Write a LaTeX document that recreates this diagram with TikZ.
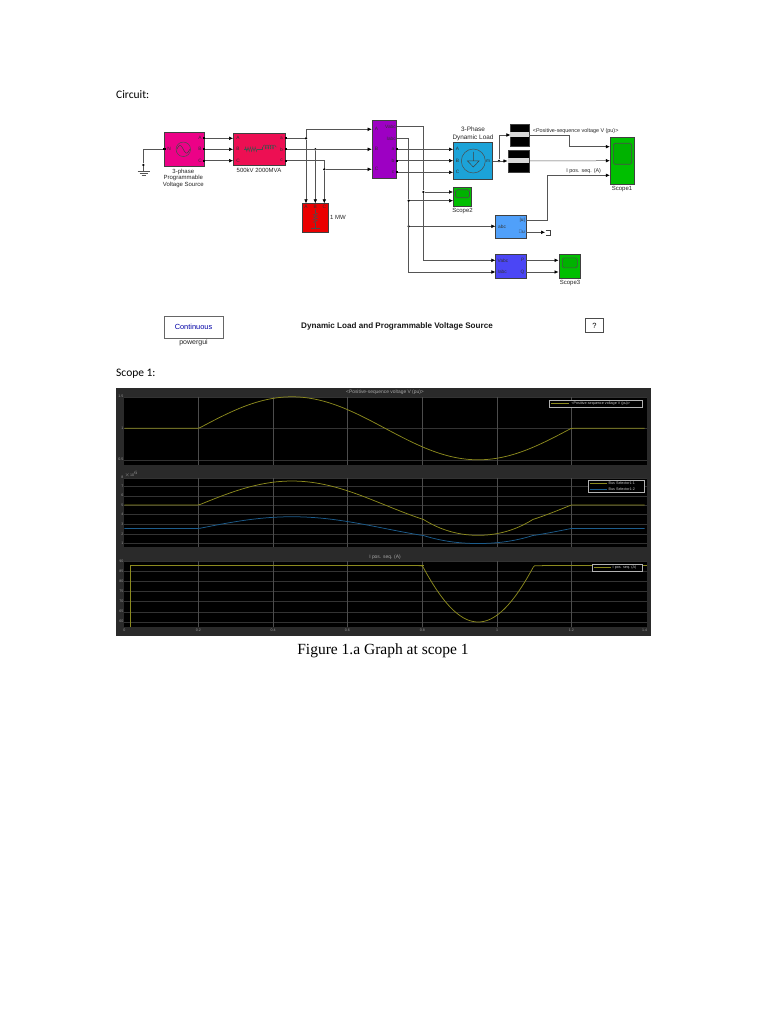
\documentclass[tikz,border=0pt]{standalone}
\usepackage{fontspec}
\setmainfont{Liberation Sans}
\newfontfamily\carlitofont{Carlito}
\newfontfamily\serifcap{Liberation Serif}
\usetikzlibrary{arrows.meta,decorations.pathmorphing}
\newcommand{\fsz}[1]{\fontsize{#1}{#1}\selectfont}
\definecolor{wirec}{HTML}{555555}
\definecolor{scopebg}{HTML}{2A2A2A}
\definecolor{gridc}{HTML}{333333}
\definecolor{trackA}{HTML}{8C8A1E}
\definecolor{trackB}{HTML}{1C5C8C}
\definecolor{ticktxt}{HTML}{9A9A9A}
\tikzset{
  x=1pt,y=-1pt,
  blk/.style={draw=black!75,line width=.5pt,inner sep=0,rectangle},
  wire/.style={draw=wirec,line width=.5pt},
  arr/.style={wire,-{Latex[length=4pt,width=3.6pt,black]}},
  jun/.style={circle,fill=black,inner sep=0,minimum size=2.6pt},
  sq/.style={rectangle,fill=black,inner sep=0,minimum size=2.2pt},
  lbl/.style={inner sep=0,font=\fsz{6},text=black!85,align=center},
  plbl/.style={inner sep=0,font=\fsz{4.8},text=black!80},
  tick/.style={inner sep=0,font=\fsz{3.6},text=ticktxt},
  grid/.style={draw=gridc,line width=.4pt},
  vgrid/.style={draw=black!70!white,line width=.4pt},
  legendbox/.style={draw=black!30,fill=black,line width=.4pt},
  legtxt/.style={inner sep=0,font=\fsz{3.7},text=black!20,anchor=west},
  declare function={
    voltt(\t)=(\t<0.2 || \t>1.2) ? 1 : 1+0.5*sin(360*(\t-0.2));
    powp(\v)=(\v>=0.706) ? 5+5.1*(\v-1) : 7.1*\v*\v;
    powq(\v)=(\v>=0.706) ? 2.5+2.5*(\v-1) : 3.6*\v*\v;
    curr(\v)=(\v>=0.706) ? 565.7 : 565.7+56.3*(0.706-\v)/0.206;
  }
}
\begin{document}
\begin{tikzpicture}
\useasboundingbox (0,0) rectangle (768,1024);
\fill[white] (0,0) rectangle (768,1024);

% captions
\node[inner sep=0,anchor=west,font=\carlitofont\fsz{11.5}] (capA) at (116,95) {Circuit:};
\node[inner sep=0,anchor=west,font=\carlitofont\fsz{11.5}] (capB) at (116,374) {Scope 1:};
\node[inner sep=0,font=\serifcap\fsz{15.5}] (capC) at (383,651) {Figure 1.a Graph at scope 1};

% ---------- blocks
\node[blk,fill=magenta!95!red,minimum width=39.3pt,minimum height=34.4pt] (src) at (184.3,149.5) {};
\node[blk,fill=red!20!magenta!100!black,fill=magenta!45!red,minimum width=52.4pt,minimum height=32.4pt] (ser) at (259.5,149.5) {};
\node[blk,fill=red!92!black,minimum width=25.3pt,minimum height=29pt] (rl) at (315.3,217.8) {};
\node[blk,fill=violet!55!magenta!85!blue,minimum width=24.7pt,minimum height=57.6pt] (vi) at (384.3,149.5) {};
\node[blk,fill=cyan!85!teal!95!black,minimum width=39.4pt,minimum height=36.6pt] (dyn) at (473,161) {};
\node[blk,fill=black,minimum width=18.3pt,minimum height=22pt] (selA) at (519.8,135) {};
\node[blk,fill=black,minimum width=21.3pt,minimum height=22pt] (selB) at (518.4,161) {};
\node[blk,fill=green!75!black,minimum width=24.3pt,minimum height=46.7pt] (scA) at (622.2,160.7) {};
\node[blk,fill=green!75!black,minimum width=18.4pt,minimum height=18.7pt] (scB) at (462.5,196.6) {};
\node[blk,fill=green!75!black,minimum width=21.3pt,minimum height=24pt] (scC) at (569.4,266.3) {};
\node[blk,fill=blue!45!cyan!65!white,fill={rgb,255:red,80;green,160;blue,250},minimum width=30.3pt,minimum height=23pt] (cal) at (510.8,226.5) {};
\node[blk,fill={rgb,255:red,75;green,70;blue,245},minimum width=30.3pt,minimum height=23.3pt] (pq) at (510.8,266.3) {};

% selector bands
\fill[white!85!black] (selA.west |- 0,132.5) rectangle (selA.east |- 0,137);
\fill[white!85!black] (selB.west |- 0,158.5) rectangle (selB.east |- 0,163);

% scope screens
\node[draw=black!70,rounded corners=1.5pt,fill=green!70!black,inner sep=0,minimum width=18.4pt,minimum height=21pt,line width=.6pt] (scrA) at (622.5,153.8) {};
\node[draw=black!70,rounded corners=1.5pt,fill=green!70!black,inner sep=0,minimum width=14pt,minimum height=8pt,line width=.6pt] (scrB) at (462.5,193.8) {};
\node[draw=black!70,rounded corners=1.5pt,fill=green!70!black,inner sep=0,minimum width=15pt,minimum height=10pt,line width=.6pt] (scrC) at (569.8,262.8) {};

% symbols
\node[circle,draw=black!70,line width=.5pt,inner sep=0,minimum size=14.5pt] (srcsym) at (183.3,149.3) {};
\draw[black!75,line width=.5pt,domain=0:360,samples=30,smooth] plot ({176.8+\x/360*13},{149.3-3.8*sin(\x)});
\draw[black!70,line width=.45pt] (248,149.3) -- (244,149.3);
\draw[black!70,line width=.45pt,decorate,decoration={zigzag,segment length=2.4pt,amplitude=2.2pt}] (245,149.3) -- (257,149.3);
\draw[black!70,line width=.45pt] (257,149.3) -- (262,149.3) -- (262,147) -- (263,147);
\draw[black!70,line width=.45pt,decorate,decoration={coil,segment length=2.4pt,amplitude=2pt,aspect=.5}] (263,147) -- (277,147);
\draw[black!70,line width=.45pt,decorate,decoration={zigzag,segment length=2.4pt,amplitude=2pt}] (315.3,213) -- (315.3,223);
\draw[black!70,line width=.45pt] (315.3,209) -- (315.3,213) (315.3,223) -- (315.3,228);
\draw[black!70,line width=.45pt] (311,228) -- (319.6,228);
\node[circle,draw=black!70,line width=.5pt,inner sep=0,minimum size=24pt] (dynsym) at (473.3,161) {};
\draw[black!75,line width=.5pt] (473.3,152) -- (473.3,161) (467.5,161) -- (479,161) -- (473.3,167) -- cycle;

% block port labels
\foreach \nm/\t/\xx/\yy in {a1/A/200/138.3,a2/B/200/149.3,a3/C/200/160.7,b1/A/238/138.3,b2/B/238/149.3,b3/C/238/160.7,b4/a/281.5/138.3,b5/b/281.5/149.3,b6/c/281.5/160.7,c1/A/376.5/129.3,c2/B/376.5/149.3,c3/C/376.5/169.3,d1/A/457.5/149.3,d2/B/457.5/161,d3/C/457.5/172.3,d4/m/488/161,e1/N/169/149.3,f1/a/393/149.3,f2/b/393/160.7,f3/c/393/172.3,g1/A/306/207,g2/B/315.3/207,g3/C/324.3/207}
  \node[plbl] (p\nm) at (\xx,\yy) {\t};
\node[plbl,anchor=east] (v1) at (396,126.7) {Vabc};
\node[plbl,anchor=east] (v2) at (396,138.3) {Iabc};
\node[plbl,anchor=west] (h1) at (498,226.3) {abc};
\node[plbl,anchor=east] (h2) at (525,220) {|u|};
\node[plbl,anchor=east] (h3) at (525,232.3) {\char"2220 u};
\node[plbl,anchor=west] (i1) at (497.5,260.3) {Vabc};
\node[plbl,anchor=west] (i2) at (497.5,272) {Iabc};
\node[plbl,anchor=east] (i3) at (524.5,260.3) {P};
\node[plbl,anchor=east] (i4) at (524.5,272) {Q};

% ---------- named port points and junctions
\coordinate (sA) at (src.east |- 0,138.3);
\coordinate (sB) at (src.east |- 0,149.3);
\coordinate (sC) at (src.east |- 0,160.7);
\coordinate (tA) at (ser.west |- sA);
\coordinate (tB) at (ser.west |- sB);
\coordinate (tC) at (ser.west |- sC);
\coordinate (uA) at (ser.east |- sA);
\coordinate (uB) at (ser.east |- sB);
\coordinate (uC) at (ser.east |- sC);
\coordinate (viA) at (vi.west |- 0,129.3);
\coordinate (viB) at (vi.west |- 0,149.3);
\coordinate (viC) at (vi.west |- 0,169.3);
\coordinate (rA) at (306,203.3);
\coordinate (rB) at (315.3,203.3);
\coordinate (rC) at (324.3,203.3);
\node[jun] (ja) at (306,138.3) {};
\node[jun] (jb) at (315.3,149.3) {};
\node[jun] (jc) at (324.3,169.3) {};
\coordinate (voOut) at (vi.east |- 0,126.7);
\coordinate (ioOut) at (vi.east |- 0,138.3);
\coordinate (oa) at (vi.east |- 0,149.3);
\coordinate (ob) at (vi.east |- 0,160.7);
\coordinate (oc) at (vi.east |- 0,172.3);
\coordinate (da) at (dyn.west |- oa);
\coordinate (db) at (dyn.west |- ob);
\coordinate (dc) at (dyn.west |- oc);
\node[jun] (jv) at (423.3,192) {};
\node[jun] (ji1) at (408.7,200.7) {};
\node[jun] (ji2) at (408.7,226.3) {};
\coordinate (sc2a) at (scB.west |- jv);
\coordinate (sc2b) at (scB.west |- ji1);
\coordinate (calIn) at (cal.west |- ji2);
\coordinate (pqV) at (pq.west |- 0,260.3);
\coordinate (pqI) at (pq.west |- 0,272);
\coordinate (pqP) at (pq.east |- pqV);
\coordinate (pqQ) at (pq.east |- pqI);
\coordinate (scCa) at (scC.west |- pqV);
\coordinate (scCb) at (scC.west |- pqI);
\node[jun] (jm) at (499,161) {};
\coordinate (mOut) at (dyn.east |- jm);
\coordinate (selAin) at (selA.west);
\coordinate (selBin) at (selB.west);
\coordinate (scAa) at (scA.west |- 0,146.7);
\coordinate (scAb) at (scA.west |- 0,160.7);
\coordinate (scAc) at (scA.west |- 0,175.3);
\coordinate (calU) at (cal.east |- 0,220);
\coordinate (calAng) at (cal.east |- 0,232.3);
\coordinate (termn) at (545,232.3);

% ---------- wires
\draw[arr] (sA) -- (tA);
\draw[arr] (sB) -- (tB);
\draw[arr] (sC) -- (tC);
\draw[wire] (uA) -- (ja);
\draw[arr] (ja) |- (viA);
\draw[arr] (ja) -- (rA);
\draw[arr] (uB) -- (viB);
\draw[arr] (jb) -- (rB);
\draw[wire] (uC) -| (jc);
\draw[arr] (jc) -- (rC);
\draw[arr] (jc) -- (viC);
\draw[arr] (oa) -- (da);
\draw[arr] (ob) -- (db);
\draw[arr] (oc) -- (dc);
\draw[arr] (voOut) -| (jv) |- (pqV);
\draw[arr] (jv) -- (sc2a);
\draw[arr] (ioOut) -| (ji1) |- (pqI);
\draw[arr] (ji1) -- (sc2b);
\draw[arr] (ji2) -- (calIn);
\draw[arr] (pqP) -- (scCa);
\draw[arr] (pqQ) -- (scCb);
\draw[arr] (mOut) -- (selBin);
\draw[arr] (jm) |- (selAin);
\draw[arr] (selA.east) -- (569.3,135) |- (scAa);
\draw[arr] (selB.east) -- (scAb);
\draw[arr] (calU) -- (547.3,220) |- (scAc);
\draw[arr] (calAng) -- (termn);
\draw[black!75,line width=.5pt] (545.5,229.8) -- (550,229.8) -- (550,234.8) -- (545.5,234.8);
\node[jun,minimum size=2pt] (jmb) at (504,161) {};

% port squares
\foreach \p in {sA,sB,sC,uA,uB,uC,oa,ob,oc} \node[sq] at (\p) {};

% ground
\node[sq] (nport) at (src.west |- sB) {};
\node[jun] (jg) at (143.3,165) {};
\draw[wire] (nport) -| (jg) -- (143.3,171);
\draw[wirec,line width=.5pt] (137.5,171) -- (149.5,171) (139.5,173.3) -- (147.5,173.3) (141.5,175.3) -- (145.5,175.3);

% ---------- block labels
\node[lbl] (lA) at (183.3,178.4) {3-phase\\[.9pt]Programmable\\[.9pt]Voltage Source};
\node[lbl] (lB) at (259,170) {500kV 2000MVA};
\node[lbl] (lC) at (338,217.7) {1 MW};
\node[lbl,font=\fsz{6.4}] (lD) at (473,133.8) {3-Phase\\[1.2pt]Dynamic Load};
\node[lbl] (lE) at (622,189.5) {Scope1};
\node[lbl] (lF) at (462.5,211) {Scope2};
\node[lbl] (lG) at (570,283) {Scope3};
\node[lbl,font=\fsz{5.4},anchor=west] (lH) at (532.7,131) {<Positive-sequence voltage V (pu)>};
\node[lbl,font=\fsz{5.4}] (lI) at (583.7,171) {I pos. seq. (A)};

% powergui, title, help
\node[draw=black!60,line width=.6pt,fill=white,inner sep=0,minimum width=59pt,minimum height=22pt,text=blue!65!black,font=\fsz{7.4}] (pg) at (193.5,327) {Continuous};
\node[lbl,font=\fsz{7}] (pgl) at (193.5,343) {powergui};
\node[inner sep=0,font=\bfseries\fsz{8.1},text=black!90] (ttl) at (397,326.3) {Dynamic Load and Programmable Voltage Source};
\node[draw=black!70,line width=.6pt,inner sep=0,minimum width=18.5pt,minimum height=14.5pt,font=\fsz{7.5}] (help) at (594.5,325.5) {?};

% ---------- scope picture
\fill[scopebg] (116,388) rectangle (651,636);
\fill[black] (124.3,396.7) rectangle (646.5,465);
\fill[black] (124.3,477.7) rectangle (646.5,547.3);
\fill[black] (124.3,561) rectangle (646.5,626.7);
% grids
\foreach \yy in {396.7,428.3,459.7} \draw[grid] (124.3,\yy) -- (646.5,\yy);
\foreach \yy in {477.7,486,495.7,505,514.3,524,534,543.3} \draw[grid] (124.3,\yy) -- (646.5,\yy);
\foreach \yy in {561,571.3,581,591.3,601.3,611.7,621.7} \draw[grid] (124.3,\yy) -- (646.5,\yy);
\foreach \xx in {198.3,273,347.3,422.3,497,571.3} {
  \draw[vgrid] (\xx,396.7) -- (\xx,465);
  \draw[vgrid] (\xx,477.7) -- (\xx,547.3);
  \draw[vgrid] (\xx,561) -- (\xx,626.7);
}
% curves
\draw[trackA,line width=.75pt,line join=round,domain=0:1.4,samples=220] plot ({124.3+372.5*\x},{428.3-63*(voltt(\x)-1)});
\draw[trackA,line width=.75pt,line join=round,domain=0:1.4,samples=220] plot ({124.3+372.5*\x},{505+(5-powp(voltt(\x)))*9.4});
\draw[trackB,line width=.75pt,line join=round,domain=0:1.4,samples=220] plot ({124.3+372.5*\x},{505+(5-powq(voltt(\x)))*9.4});
\draw[trackA,line width=.75pt,line join=round] (130,626.7) -- (130,565.7) -- (424,565.7);
\draw[trackA,line width=.75pt,line join=round,domain=0.79:1.125,samples=90] plot ({124.3+372.5*\x},{curr(voltt(\x))});
\draw[trackA,line width=.75pt] (542,565.7) -- (646.5,565.7);
% titles
\node[inner sep=0,font=\fsz{4.9},text=black!35] (t1) at (385,392.3) {<Positive-sequence voltage V (pu)>};
\node[inner sep=0,font=\fsz{4.9},text=black!35] (t3) at (385,557.7) {I pos. seq. (A)};
\node[tick,anchor=west] (t2) at (124.5,474) {$\times$10$^{\scriptscriptstyle 6}$};
% y ticks
\foreach \nm/\t/\yy in {y1/1.5/396.7,y2/1/428.3,y3/0.5/459.7,y4/8/477.7,y5/7/486,y6/6/495.7,y7/5/505,y8/4/514.3,y9/3/524,y10/2/534,y11/1/543.3,y12/90/561,y13/85/571.3,y14/80/581,y15/75/591.3,y16/70/601.3,y17/65/611.7,y18/60/621.7}
  \node[tick,anchor=east] (\nm) at (123.5,\yy) {\t};
% x ticks
\foreach \nm/\t/\xx in {x0/0/124.3,x1/0.2/198.3,x2/0.4/273,x3/0.6/347.3,x4/0.8/422.3,x5/1/497,x6/1.2/571.3,x7/1.4/644.5}
  \node[tick] (\nm) at (\xx,630.3) {\t};
% legends
\node[legendbox,inner sep=0,minimum width=93pt,minimum height=6.8pt] (lg1) at (595.8,403.3) {};
\draw[trackA,line width=.7pt] (551,403.3) -- (569,403.3);
\node[legtxt] (lg1t) at (571.3,403.3) {<Positive-sequence voltage V (pu)>};
\node[legendbox,inner sep=0,minimum width=56pt,minimum height=12.6pt] (lg2) at (616.3,486) {};
\draw[trackA,line width=.7pt] (590,483) -- (607,483);
\draw[trackB,line width=.7pt] (590,489) -- (607,489);
\node[legtxt] (lg2a) at (608.5,483) {Bus Selector1:1};
\node[legtxt] (lg2b) at (608.5,489) {Bus Selector1:2};
\node[legendbox,inner sep=0,minimum width=49.4pt,minimum height=6.8pt] (lg3) at (617,567.7) {};
\draw[trackA,line width=.7pt] (594,567.7) -- (611,567.7);
\node[legtxt] (lg3t) at (612.5,567.7) {I pos. seq. (A)};
\end{tikzpicture}
\end{document}
